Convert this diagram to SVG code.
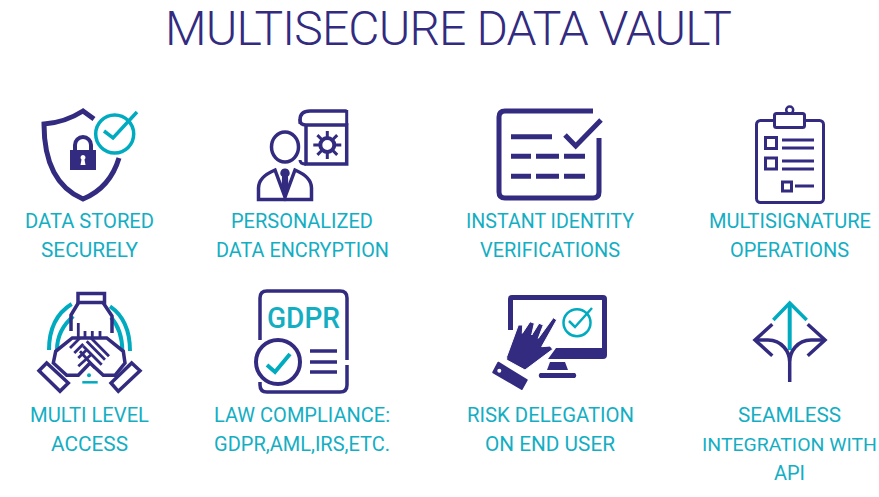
<svg xmlns="http://www.w3.org/2000/svg" width="879" height="497" viewBox="0 0 879 497">
<style>
text{font-family:"Roboto","Liberation Sans",sans-serif;fill:#14aec3;font-size:20.500px;font-weight:400}
#title{fill:#322b80;font-size:48px;font-weight:300}
.p{fill:none;stroke:#322b80;stroke-width:3.5}
.t{fill:none;stroke:#00abc0;stroke-width:3.5}
.f{fill:#322b80}
</style>
<rect width="879" height="497" fill="#fff"/>
<text id="title" x="165" y="45" textLength="567">MULTISECURE DATA VAULT</text>

<g id="node-stored">
<path class="p" style="stroke-width:5" d="M94,119L83,111C72,118 58,123 44,124C44,150 50,185 83,199C100,192 113,178 119,158"/>
<circle class="t" cx="114.700" cy="134" r="19"/>
<path class="t" d="M104,131L113,138L137,112"/>
<path class="f" d="M70,150H96V170H70Z"/>
<path class="p" style="stroke-width:4" d="M75,150V145a8,8 0 0 1 16,0V150"/>
<path fill="#fff" d="M83,155a2.500,2.500 0 0 1 1.500,4.500L85.500,165H80.500L81.500,159.500A2.500,2.500 0 0 1 83,155Z"/>
<text x="25" y="228" textLength="129" lengthAdjust="spacingAndGlyphs">DATA STORED</text>
<text x="41" y="257" textLength="97" lengthAdjust="spacingAndGlyphs">SECURELY</text>
</g>

<g id="node-encryption">
<ellipse class="p" cx="285" cy="147" rx="13.500" ry="15"/>
<path class="p" d="M346.700,111H310Q300,111 300,120Q300,125 306,125H346.700V164H306V125"/>
<path class="p" style="stroke-width:3" d="M346.700,110V125M300,119V124M300,160Q300,164 306,164"/>
<circle class="p" style="stroke-width:4" cx="327.300" cy="145" r="7"/>
<path class="p" style="stroke-width:3" d="M327.300,131V137M327.300,153V159M313.300,145H319.300M335.300,145H341.300M317.400,135.100L321.500,139.200M333.100,150.800L337.200,154.900M317.400,154.900L321.500,150.800M333.100,139.200L337.200,135.100"/>
<path class="p" d="M258.500,199.500V188Q258.500,177 275,170L285,197L295,170Q311.500,177 311.500,188V199.500Z"/>
<path class="f" d="M285,168.500a4.500,4.500 0 0 1 3,8L288.500,190L285,197L281.500,190L282,176.500a4.500,4.500 0 0 1 3,-8Z"/>
<text x="231" y="228" textLength="142" lengthAdjust="spacingAndGlyphs">PERSONALIZED</text>
<text x="216" y="257" textLength="173" lengthAdjust="spacingAndGlyphs">DATA ENCRYPTION</text>
</g>

<g id="node-identity">
<path class="p" style="stroke-width:5" d="M593,111H505Q499,111 499,117V192Q499,198 505,198H593Q599,198 599,192V138"/>
<path class="p" style="stroke-width:5" d="M565,135L575.700,146L601,120"/>
<path class="p" style="stroke-width:5" d="M511,136.700H552M511,156.300H531M536,156.300H559M564,156.300H585M511,176.300H531M536,176.300H559M564,176.300H585"/>
<text x="466" y="228" textLength="168" lengthAdjust="spacingAndGlyphs">INSTANT IDENTITY</text>
<text x="480" y="257" textLength="140" lengthAdjust="spacingAndGlyphs">VERIFICATIONS</text>
</g>

<g id="node-multisig">
<rect class="p" style="stroke-width:3" x="756.500" y="120.500" width="67" height="82" rx="4"/>
<circle class="p" style="stroke-width:2.500" cx="789.700" cy="110" r="3.500"/>
<rect x="774.500" y="113.500" width="30" height="14" rx="2" fill="#fff" stroke="#322b80" stroke-width="3"/>
<rect class="p" style="stroke-width:3" x="765.500" y="137.500" width="11" height="11"/>
<rect class="p" style="stroke-width:3" x="765.500" y="158" width="11" height="11"/>
<rect class="p" style="stroke-width:3" x="782.500" y="182" width="9" height="9"/>
<path class="p" style="stroke-width:3" d="M782,140H814M782,148H814M782,161H814M782,169H814M795,186H814"/>
<text x="709" y="228" textLength="162" lengthAdjust="spacingAndGlyphs">MULTISIGNATURE</text>
<text x="730" y="257" textLength="119" lengthAdjust="spacingAndGlyphs">OPERATIONS</text>
</g>

<g id="node-access">
<path class="t" style="stroke-width:4" d="M71.700,304Q49,318 49,350M73.300,316.300Q57,330 57,350M110,306.300Q130,320 130,351M111,317.300Q122.300,330 122.300,351"/>
<path class="p" d="M78.300,303L71,315V331M103.300,303L112,316V333"/>
<rect class="p" x="78" y="293.500" width="26.500" height="9"/>
<path class="p" d="M53.300,363L55.700,351.300L72.300,338H106.700L123.300,351.300L125,363L115,375.300H103.300L90,363L78.300,375.300H66.700Z" fill="#fff"/>
<path class="p" style="stroke-width:2.800" d="M78.300,323V338M85,331V338M92.300,331V338M100,331V338M91,338L109,356.300M86.700,341.300L105,359.700M83.300,346.300L101.700,364.700M80,351.300L95,368M70,348L80,338M74.300,353L83.300,344M78.300,358L86.700,349.700M78.300,366.300L91,354.700"/>
<path class="p" style="fill:#fff" d="M46.700,363L68.300,383L60,391.300L39,370.700Z"/>
<path class="p" style="fill:#fff" d="M131.700,363L140,370.700L118.300,391.300L111,383Z"/>
<path class="t" style="stroke-width:2.500" d="M82.300,382.300H97.700"/>
<circle cx="89" cy="375.300" r="2" fill="#00abc0"/>
<text x="30" y="422" textLength="119" lengthAdjust="spacingAndGlyphs">MULTI LEVEL</text>
<text x="51" y="451" textLength="77" lengthAdjust="spacingAndGlyphs">ACCESS</text>
</g>

<g id="node-gdpr">
<path class="p" d="M260,340V298Q260,291 267,291H340Q347,291 347,298V360M347,365V385Q347,392 340,392H267Q260,392 260,385V382"/>
<text x="267" y="328" textLength="73" lengthAdjust="spacingAndGlyphs" style="font-size:30px;font-weight:500">GDPR</text>
<circle class="p" style="stroke-width:4" cx="278" cy="362" r="22" fill="#fff"/>
<path class="t" style="stroke-width:4" d="M267,365L275,372L290,354"/>
<path class="p" d="M310,351H337M310,362H337M310,372H337"/>
<text x="214" y="422" textLength="176" lengthAdjust="spacingAndGlyphs">LAW COMPLIANCE:</text>
<text x="214" y="451" textLength="176" lengthAdjust="spacingAndGlyphs">GDPR,AML,IRS,ETC.</text>
</g>

<g id="node-risk">
<path class="f" fill-rule="evenodd" d="M512,295H603Q607,295 607,299V355Q607,359 603,359H548L556,348H602V300H513V330L508,330V299Q508,295 512,295Z"/>
<path class="f" d="M550,362H565L568,370H547ZM540,373H575Q577.500,375.500 575,378H540Q537.500,375.500 540,373Z"/>
<circle class="t" style="stroke-width:2.500" cx="577" cy="322.700" r="13.500"/>
<path class="t" style="stroke-width:2.500" d="M569,321L575,327L592,308"/>
<path class="f" stroke="#fff" stroke-width="1" d="M506.700,356.700L518.300,325L522.700,325L522.300,333.300L530,321.700L534.300,323.300L531.700,335L539,323.300L543.300,325L538.300,338.300L553.300,317.700L556.700,320L541.700,346.700L550,346L552.700,349.300L525,370L506.700,360Z"/>
<path class="f" d="M498.300,362.700L526.700,380L521.700,389L493.300,372.300Z" stroke="#322b80" stroke-width="2" stroke-linejoin="round"/>
<circle cx="499.300" cy="370.700" r="2" fill="#fff"/>
<text x="467" y="422" textLength="167" lengthAdjust="spacingAndGlyphs">RISK DELEGATION</text>
<text x="485" y="451" textLength="130" lengthAdjust="spacingAndGlyphs">ON END USER</text>
</g>

<g id="node-api">
<path class="t" d="M773.300,320L789.700,303L806.700,320"/>
<path class="t" style="stroke-width:4" d="M789.700,303V350"/>
<path class="p" d="M772.300,324.300L755,340L772.300,355.700M807.700,324.300L825,340L807.700,355.700"/>
<path class="p" d="M755,340H768C782,340 789.700,352 789.700,362V382M825,340H811C797,340 789.700,352 789.700,362"/>
<text x="738" y="422" textLength="103" lengthAdjust="spacingAndGlyphs">SEAMLESS</text>
<text x="702" y="451" textLength="175" lengthAdjust="spacingAndGlyphs" style="font-size:19px">INTEGRATION WITH</text>
<text x="774" y="480" textLength="31" lengthAdjust="spacingAndGlyphs">API</text>
</g>
<g id="connectors"/>
</svg>
